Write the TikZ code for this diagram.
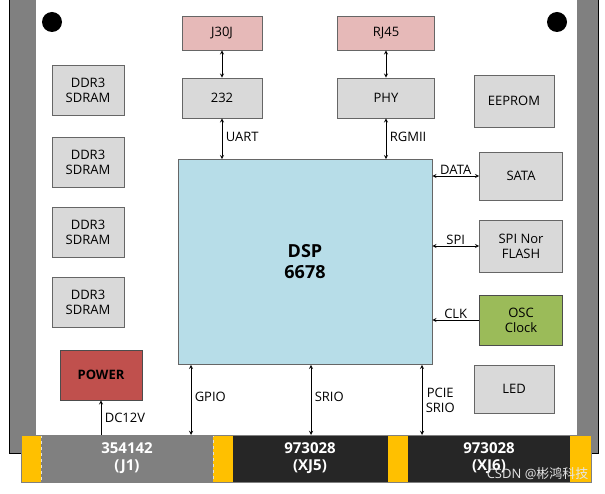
\documentclass[tikz,border=0pt]{standalone}
\usepackage{fontspec}
\setmainfont{Open Sans}
\newfontfamily\cjk{Noto Sans CJK SC}
\definecolor{bgray}{HTML}{D9D9D9}
\definecolor{pinkc}{HTML}{E6B9B8}
\definecolor{dspc}{HTML}{B7DDE8}
\definecolor{redc}{HTML}{C0504D}
\definecolor{greenc}{HTML}{9BBB59}
\definecolor{yelc}{HTML}{FFC000}
\definecolor{frame}{HTML}{808080}
\begin{document}
\begin{tikzpicture}[x=1pt,y=-1pt,
 box/.style={draw=gray!80!black,fill=bgray,line width=0.6pt},
 lbl/.style={font=\fontsize{13}{15}\selectfont,align=center},
 arr/.style={<->,>=stealth,line width=0.9pt},
 ar/.style={->,>=stealth,line width=0.9pt}]
\useasboundingbox (0,0) rectangle (605,494);
\fill[frame] (9,0) rectangle (598,453);
\draw[black,line width=0.8pt] (9,0) -- (9,453) -- (598,453) -- (598,0);
\fill[white] (36,0) rectangle (577,453);
\fill (52,22) circle (10);
\fill (557,22) circle (10);
% top boxes
\node[box,fill=pinkc,minimum width=80,minimum height=34,lbl] (j30) at (222,33) {J30J};
\node[box,fill=pinkc,minimum width=97,minimum height=34,lbl] (rj) at (386,33) {RJ45};
\node[box,minimum width=80,minimum height=40,lbl] (u232) at (222,98) {232};
\node[box,minimum width=97,minimum height=40,lbl] (phy) at (386,98) {PHY};
\node[draw=gray!80!black,fill=dspc,line width=0.6pt,minimum width=254,minimum height=205,font=\fontsize{18}{21}\selectfont\bfseries,align=center] (dsp) at (305,262) {DSP\\6678};
% left
\foreach \y/\n in {90/d1,162/d2,232/d3,302/d4}
 \node[box,minimum width=72,minimum height=50,lbl] (\n) at (88,\y) {DDR3\\SDRAM};
\node[draw=gray!60!black,fill=redc,line width=0.6pt,minimum width=82,minimum height=50,font=\fontsize{13}{15}\selectfont\bfseries] (pw) at (101,375) {POWER};
% right
\node[box,minimum width=80,minimum height=52,lbl] (ee) at (514,101) {EEPROM};
\node[box,minimum width=83,minimum height=48,lbl] (sata) at (521,176) {SATA};
\node[box,minimum width=83,minimum height=52,lbl] (spi) at (521,246) {SPI Nor\\FLASH};
\node[draw=gray!60!black,fill=greenc,line width=0.6pt,minimum width=83,minimum height=50,lbl] (osc) at (521,320) {OSC\\Clock};
\node[box,minimum width=80,minimum height=48,lbl] (led) at (514,389) {LED};
% connector bar
\fill[yelc] (21,435) rectangle (591,482);
\fill[frame] (41,435) rectangle (213,482);
\draw[white!75!gray,dashed,line width=0.8pt] (41,435) rectangle (213,482);
\fill[black!85] (233,435) rectangle (388,482);
\fill[black!85] (408,435) rectangle (570,482);
\draw[gray,line width=0.6pt] (21,435) rectangle (591,482);
\node[text=white,font=\fontsize{15}{17}\selectfont\bfseries,align=center] (j1) at (127,458) {354142\\(J1)};
\node[text=white,font=\fontsize{15}{17}\selectfont\bfseries,align=center] (xj5) at (310,458) {973028\\(XJ5)};
\node[text=white,font=\fontsize{15}{17}\selectfont\bfseries,align=center] (xj6) at (489,458) {973028\\(XJ6)};
\coordinate (b1) at (191,435); \coordinate (b2) at (311,435); \coordinate (b3) at (422,435); \coordinate (b0) at (101,435);
% arrows
\draw[arr] (j30) -- (u232);
\draw[arr] (rj) -- (phy);
\draw[arr] (u232) -- node[lbl,right,pos=0.45]{UART} (u232 |- dsp.north);
\draw[arr] (phy) -- node[lbl,right,pos=0.45]{RGMII} (phy |- dsp.north);
\draw[arr] (dsp.east |- sata) -- node[lbl,above,inner sep=1pt]{DATA} (sata);
\draw[arr] (dsp.east |- spi) -- node[lbl,above,inner sep=1pt]{SPI} (spi);
\draw[ar] (osc) -- node[lbl,above,inner sep=1pt]{CLK} (dsp.east |- osc);
\draw[arr] (b1 |- dsp.south) -- node[lbl,right,pos=0.45]{GPIO} (b1);
\draw[arr] (b2 |- dsp.south) -- node[lbl,right,pos=0.45]{SRIO} (b2);
\draw[arr] (b3 |- dsp.south) -- node[lbl,right,pos=0.5]{PCIE\\SRIO} (b3);
\draw[ar] (b0) -- node[lbl,right,pos=0.5]{DC12V} (pw);
\node[text=white!80!gray,font=\fontsize{13}{14}\selectfont,anchor=east] (wm) at (592,474) {CSDN @{\cjk 彬鸿科技}};
\end{tikzpicture}
\end{document}
